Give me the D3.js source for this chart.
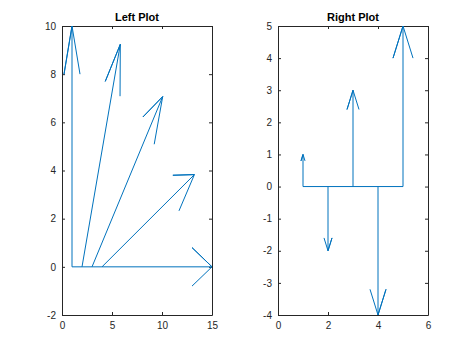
<!DOCTYPE html>
<html>
<head>
<meta charset="utf-8">
<script src="https://cdn.jsdelivr.net/npm/d3@7"></script>
<style>
  body { margin: 0; background: #fff; }
  svg { display: block; font-family: "Liberation Sans", Arial, sans-serif; }
  .axis text { font-size: 10px; fill: #262626; }
  .axis path, .axis line { stroke: #262626; }
  .title { font-size: 11px; font-weight: bold; fill: #000; }
</style>
</head>
<body>
<div id="chart"></div>
<script>
// Feather data: arrows start at x = 1..n on y = 0
const leftU = [0, 3.83, 7.07, 9.24, 10];
const leftV = [10, 9.24, 7.07, 3.83, 0];
const rightU = [0, 0, 0, 0, 0];
const rightV = [1, -2, 3, -4, 5];

const leftXTicks = [0, 5, 10, 15];
const leftYTicks = [-2, 0, 2, 4, 6, 8, 10];
const rightXTicks = [0, 2, 4, 6];
const rightYTicks = [-4, -3, -2, -1, 0, 1, 2, 3, 4, 5];

const W = 474, H = 355;
const lineColor = "#0072BD";

const svg = d3.select("#chart").append("svg")
    .attr("width", W)
    .attr("height", H);

// MATLAB feather arrow shape (along the vector, across it)
const arrowAlong = [0, 1, 0.8, 1, 0.8];
const arrowAcross = [0, 0, 0.08, 0, -0.08];

function drawFeather(opts) {
    const x = d3.scaleLinear().domain(opts.xDomain).range([opts.left, opts.right]);
    const y = d3.scaleLinear().domain(opts.yDomain).range([opts.bottom, opts.top]);
    const g = svg.append("g");
    const n = opts.u.length;

    // ticks (inside, on all four sides)
    const tl = 3;
    g.append("g").attr("class", "axis")
        .attr("transform", `translate(0,${opts.bottom})`)
        .call(d3.axisBottom(x).tickValues(opts.xTicks).tickSizeInner(-tl).tickSizeOuter(0).tickPadding(7).tickFormat(d3.format("d")));
    g.append("g").attr("class", "axis")
        .attr("transform", `translate(0,${opts.top})`)
        .call(d3.axisTop(x).tickValues(opts.xTicks).tickSizeInner(-tl).tickSizeOuter(0).tickFormat(""));
    g.append("g").attr("class", "axis")
        .attr("transform", `translate(${opts.left},0)`)
        .call(d3.axisLeft(y).tickValues(opts.yTicks).tickSizeInner(-tl).tickSizeOuter(0).tickPadding(6).tickFormat(d3.format("d")));
    g.append("g").attr("class", "axis")
        .attr("transform", `translate(${opts.right},0)`)
        .call(d3.axisRight(y).tickValues(opts.yTicks).tickSizeInner(-tl).tickSizeOuter(0).tickFormat(""));
    g.selectAll(".axis text").text(function() { return this.textContent.replace("−", "-"); });

    // baseline from 1 to n
    g.append("line")
        .attr("x1", x(1)).attr("x2", x(n))
        .attr("y1", y(0)).attr("y2", y(0))
        .attr("stroke", lineColor).attr("stroke-width", 1);

    // arrows
    const line = d3.line().x(d => x(d[0])).y(d => y(d[1]));
    for (let i = 0; i < n; i++) {
        const u = opts.u[i], v = opts.v[i];
        const pts = arrowAlong.map((a, k) => {
            const b = arrowAcross[k];
            // complex product (a + ib)(u + iv)
            return [i + 1 + a * u - b * v, a * v + b * u];
        });
        g.append("path")
            .attr("d", line(pts))
            .attr("fill", "none")
            .attr("stroke", lineColor)
            .attr("stroke-width", 1);
    }

    g.append("text")
        .attr("class", "title")
        .attr("x", (opts.left + opts.right) / 2)
        .attr("y", opts.top - 5)
        .attr("text-anchor", "middle")
        .text(opts.title);
}

drawFeather({
    left: 62, right: 212, top: 26, bottom: 315,
    xDomain: [0, 15], yDomain: [-2, 10],
    xTicks: leftXTicks, yTicks: leftYTicks,
    u: leftU, v: leftV, title: "Left Plot"
});

drawFeather({
    left: 278, right: 428, top: 26, bottom: 315,
    xDomain: [0, 6], yDomain: [-4, 5],
    xTicks: rightXTicks, yTicks: rightYTicks,
    u: rightU, v: rightV, title: "Right Plot"
});
</script>
</body>
</html>
